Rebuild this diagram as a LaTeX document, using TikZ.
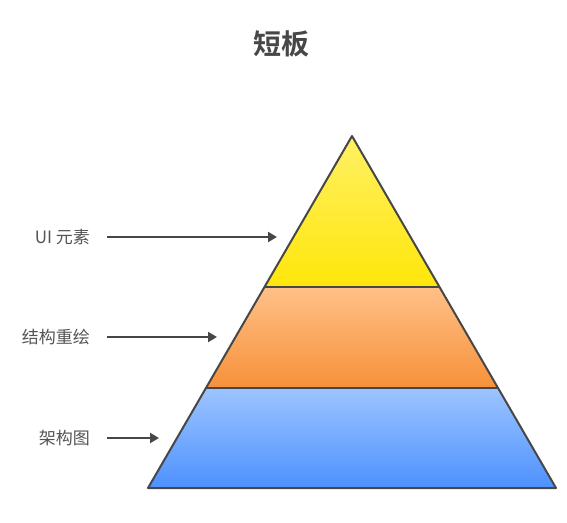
\documentclass[tikz,border=0pt]{standalone}
\usepackage{fontspec}
\setmainfont{Noto Sans CJK SC}
\newfontfamily\cjkbold{Noto Sans CJK SC Bold}
\usetikzlibrary{arrows.meta}
\begin{document}
\begin{tikzpicture}[x=1pt,y=-1pt,
  edge/.style={draw=black!72, line width=2pt, line join=round},
  lbl/.style={font=\fontsize{17}{17}\selectfont, text=black!67, anchor=east, inner sep=0pt},
  pointer/.style={draw=black!72, line width=2pt, -{Triangle[length=9pt,width=10pt]}}]
\useasboundingbox (0,0) rectangle (567,522);
\coordinate (apex) at (352,136);
\coordinate (l1) at (264.5,287);
\coordinate (r1) at (439.5,287);
\coordinate (l2) at (206,388);
\coordinate (r2) at (498,388);
\coordinate (bl) at (148,488);
\coordinate (br) at (556,488);
\shade[top color={rgb,255:red,255;green,240;blue,100}, bottom color={rgb,255:red,255;green,230;blue,10}] (apex) -- (r1) -- (l1) -- cycle;
\shade[top color={rgb,255:red,255;green,192;blue,135}, bottom color={rgb,255:red,247;green,145;blue,58}] (l1) -- (r1) -- (r2) -- (l2) -- cycle;
\shade[top color={rgb,255:red,157;green,196;blue,255}, bottom color={rgb,255:red,77;green,145;blue,254}] (l2) -- (r2) -- (br) -- (bl) -- cycle;
\draw[edge] (l1) -- (r1);
\draw[edge] (l2) -- (r2);
\draw[edge] (apex) -- (br) -- (bl) -- cycle;
\node[font=\cjkbold\fontsize{28}{28}\selectfont, text=black!72] (title) at (281,44) {短板};
\node[lbl] (t1) at (90,237) {UI 元素};
\node[lbl] (t2) at (90,337) {结构重绘};
\node[lbl] (t3) at (90,438) {架构图};
\coordinate (a1) at (277,237);
\coordinate (a2) at (217,337);
\coordinate (a3) at (159,438);
\draw[pointer] ([xshift=17pt]t1.east) -- (a1);
\draw[pointer] ([xshift=17pt]t2.east) -- (a2);
\draw[pointer] ([xshift=17pt]t3.east) -- (a3);
\end{tikzpicture}
\end{document}
